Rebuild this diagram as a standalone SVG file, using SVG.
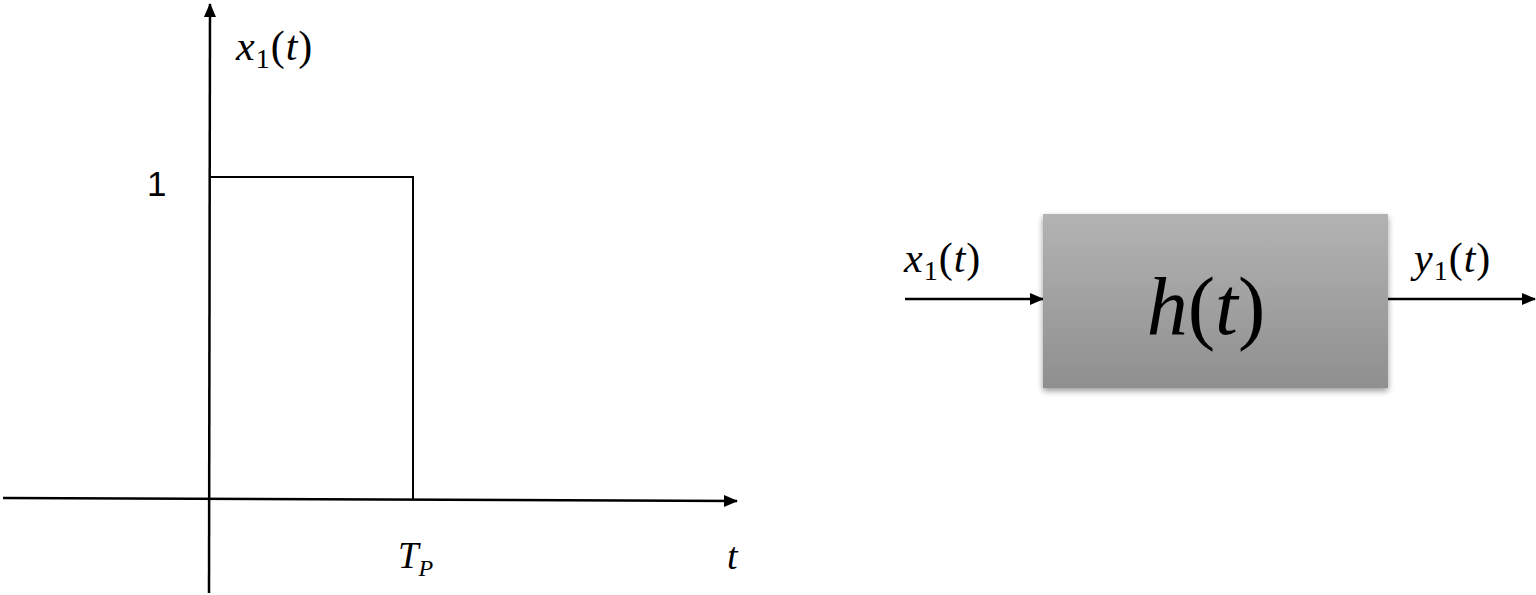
<svg xmlns="http://www.w3.org/2000/svg" width="1536" height="595" viewBox="0 0 1536 595">
<style>
.ax{stroke:#000;stroke-width:2.5;fill:none}
.sig{stroke:#000;stroke-width:2;fill:none}
.m{font-family:"Liberation Serif","DejaVu Serif",serif;font-style:italic;fill:#000}
.n{font-family:"Liberation Serif","DejaVu Serif",serif;font-style:normal}
.lbl{font-size:42px;letter-spacing:1px}
</style>
<defs>
<marker id="ah2" markerWidth="14" markerHeight="14" refX="13" refY="7" orient="auto" markerUnits="userSpaceOnUse" viewBox="0 0 14 14">
<path d="M0,1 L14,7 L0,13 z" fill="#000"/>
</marker>
<linearGradient id="g" x1="0" y1="0" x2="0" y2="1">
<stop offset="0" stop-color="#b3b3b3"/>
<stop offset="1" stop-color="#8f8f8f"/>
</linearGradient>
<filter id="sh" x="-10%" y="-10%" width="120%" height="125%">
<feGaussianBlur in="SourceAlpha" stdDeviation="3"/>
<feOffset dx="0" dy="3"/>
<feComponentTransfer><feFuncA type="linear" slope="0.4"/></feComponentTransfer>
<feMerge><feMergeNode/><feMergeNode in="SourceGraphic"/></feMerge>
</filter>
</defs>
<g id="connectors">
<line class="ax" x1="209" y1="593" x2="210" y2="4" marker-end="url(#ah2)"/>
<line class="ax" x1="3" y1="498" x2="737" y2="501" marker-end="url(#ah2)"/>
<line class="ax" x1="905" y1="299" x2="1043" y2="299" marker-end="url(#ah2)"/>
<line class="ax" x1="1388" y1="299" x2="1535" y2="299" marker-end="url(#ah2)"/>
</g>
<g id="pulse">
<polyline class="sig" points="209,177 413,177 413,499"/>
</g>
<g id="labels">
<text class="m lbl" x="236" y="60">x<tspan class="n" font-size="28" dy="8">1</tspan><tspan class="n" dy="-8">(</tspan>t<tspan class="n">)</tspan></text>
<text x="147" y="196" font-family="Liberation Sans, Arial, sans-serif" font-size="35">1</text>
<text class="m" x="398" y="568" font-size="37">T<tspan font-size="24" dy="8">P</tspan></text>
<text class="m" x="727" y="569" font-size="38">t</text>
<text class="m lbl" x="904" y="272">x<tspan class="n" font-size="28" dy="8">1</tspan><tspan class="n" dy="-8">(</tspan>t<tspan class="n">)</tspan></text>
<text class="m lbl" x="1414" y="272">y<tspan class="n" font-size="28" dy="8">1</tspan><tspan class="n" dy="-8">(</tspan>t<tspan class="n">)</tspan></text>
</g>
<g id="system">
<rect x="1043" y="214" width="345" height="174" fill="url(#g)" filter="url(#sh)"/>
<text class="m" x="1206" y="334" font-size="82" text-anchor="middle">h<tspan class="n">(</tspan>t<tspan class="n">)</tspan></text>
</g>
</svg>
